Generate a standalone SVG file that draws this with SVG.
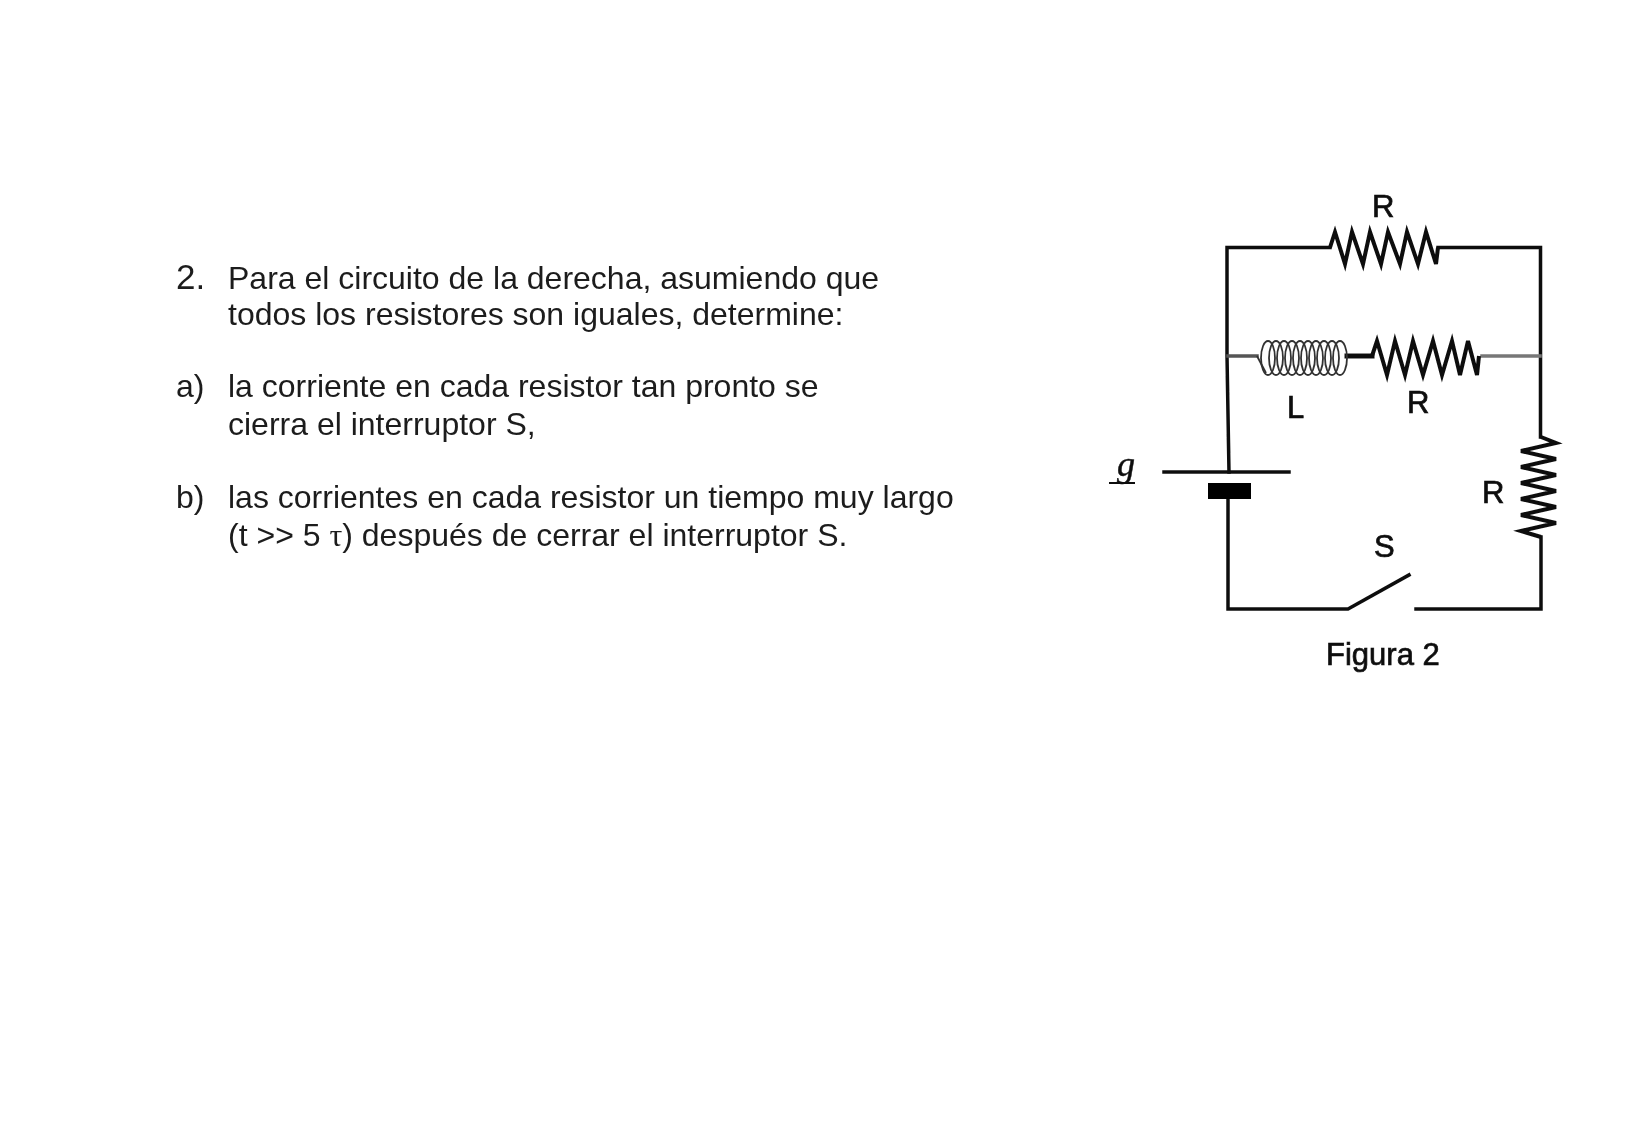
<svg xmlns="http://www.w3.org/2000/svg" width="1640" height="1146" viewBox="0 0 1640 1146">
<style>
.t{font-family:"Liberation Sans",Arial,sans-serif;font-size:32px;fill:#1c1c1c}
.l{font-family:"Liberation Sans",Arial,sans-serif;font-size:31px;fill:#111;stroke:#111;stroke-width:.7}
.w{fill:none;stroke:#111;stroke-width:3.5;stroke-linecap:square;stroke-linejoin:miter}
.r{fill:none;stroke:#111;stroke-width:4;stroke-linejoin:miter}
.c{fill:none;stroke:#333;stroke-width:1.8}
</style>
<defs><filter id="b" x="-5%" y="-5%" width="110%" height="110%"><feGaussianBlur stdDeviation="0.55"/></filter></defs>
<rect width="1640" height="1146" fill="#fff"/>
<g filter="url(#b)">
<g id="problem-text">
<text class="t" x="176" y="289" style="font-size:35px">2.</text>
<text class="t" x="228" y="289">Para el circuito de la derecha, asumiendo que</text>
<text class="t" x="228" y="325">todos los resistores son iguales, determine:</text>
<text class="t" x="176" y="397">a)</text>
<text class="t" x="228" y="397">la corriente en cada resistor tan pronto se</text>
<text class="t" x="228" y="435">cierra el interruptor S,</text>
<text class="t" x="176" y="508">b)</text>
<text class="t" x="228" y="508">las corrientes en cada resistor un tiempo muy largo</text>
<text class="t" x="228" y="546">(t &gt;&gt; 5 <tspan style="font-family:'Liberation Serif',serif">τ</tspan>) después de cerrar el interruptor S.</text>
</g>
<g id="connectors">
<path class="w" d="M1330 247.5H1227V356L1229 472"/>
<path class="w" d="M1438 247.5H1540.5V437"/>
<path class="w" d="M1228 356H1257" style="stroke:#555"/>
<path d="M1347 356H1372" class="w" style="stroke-width:5"/>
<path class="w" d="M1482 356H1540" style="stroke:#777"/>
<path class="w" d="M1228 499V609H1348L1409 575"/>
<path class="w" d="M1416 609H1541V537"/>
</g>
<g id="R-top">
<polyline class="r" points="1330,247.5 1335,232 1345,264 1352,232 1363,264 1370,232 1381,264 1388,232 1400,264 1407,232 1418,264 1426,232 1436,264 1438,247.5"/>
<text class="l" x="1372" y="217">R</text>
</g>
<g id="L">
<path class="c" d="M1257 356L1266 373"/>
<ellipse class="c" cx="1268" cy="358" rx="7" ry="17"/><ellipse class="c" cx="1276" cy="358" rx="7" ry="17"/><ellipse class="c" cx="1284" cy="358" rx="7" ry="17"/><ellipse class="c" cx="1292" cy="358" rx="7" ry="17"/><ellipse class="c" cx="1300" cy="358" rx="7" ry="17"/><ellipse class="c" cx="1308" cy="358" rx="7" ry="17"/><ellipse class="c" cx="1316" cy="358" rx="7" ry="17"/><ellipse class="c" cx="1324" cy="358" rx="7" ry="17"/><ellipse class="c" cx="1332" cy="358" rx="7" ry="17"/><ellipse class="c" cx="1340" cy="358" rx="7" ry="17"/>
<text class="l" x="1287" y="418">L</text>
</g>
<g id="R-mid">
<polyline class="r" points="1372,356 1377,341 1387,375 1395,341 1405,375 1413,341 1423,375 1433,341 1442,375 1452,341 1460,375 1468,341 1477,375 1479,356"/>
<text class="l" x="1407" y="413">R</text>
</g>
<g id="R-right">
<polyline class="r" points="1541,437 1556,443 1521,451 1556,459 1521,467 1556,475 1521,483 1556,491 1521,499 1556,507 1521,515 1556,523 1521,531 1541,537"/>
<text class="l" x="1482" y="503">R</text>
</g>
<g id="battery">
<path class="w" d="M1164 472H1289"/>
<rect x="1208" y="483" width="43" height="16" fill="#000"/>
<path d="M1109 483H1135" fill="none" stroke="#111" stroke-width="2"/>
<text x="1117" y="476" style="font-family:'Liberation Serif',serif;font-style:italic;font-size:36px;fill:#111;stroke:#111;stroke-width:.5">g</text>
</g>
<g id="switch">
<text class="l" x="1374" y="557">S</text>
</g>
<g id="caption">
<text class="l" x="1326" y="665">Figura 2</text>
</g>
</g>
</svg>
